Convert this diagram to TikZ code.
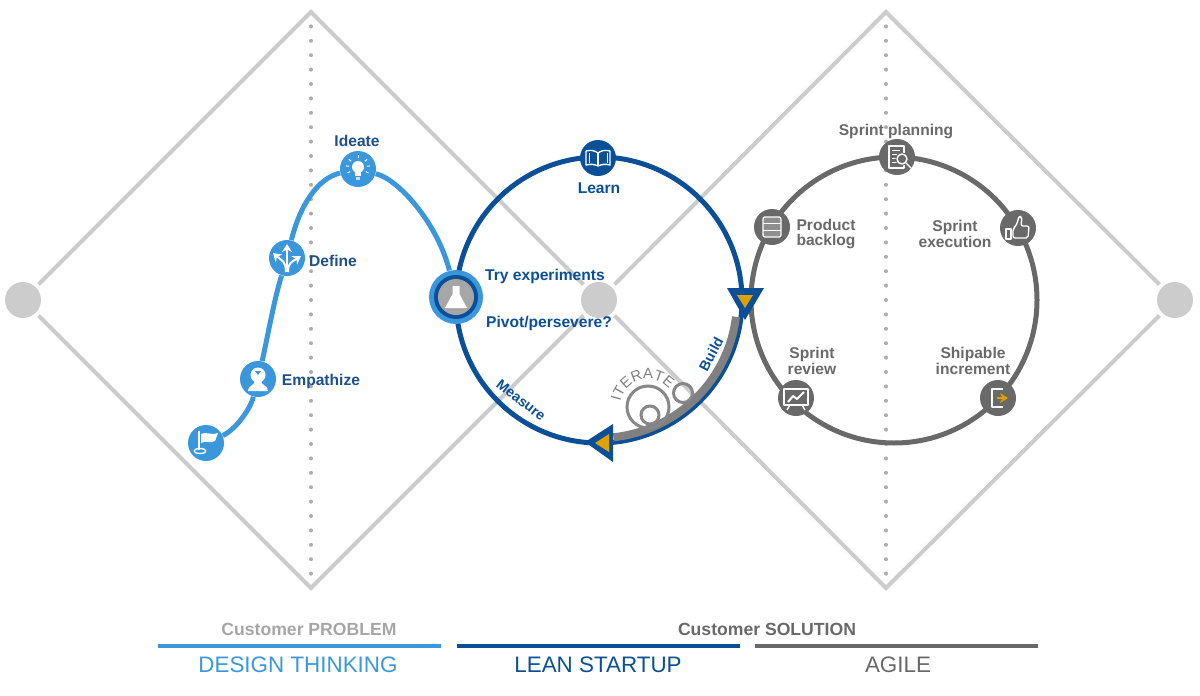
\documentclass[tikz,border=0pt]{standalone}
\usepackage{fontspec}
\setmainfont{Liberation Sans}
\usetikzlibrary{arrows.meta,decorations.text}
\definecolor{thinkblue}{HTML}{3A97DC}
\definecolor{leanblue}{HTML}{0B4F97}
\definecolor{agilegray}{HTML}{696969}
\definecolor{hubgray}{HTML}{CCCCCC}
\definecolor{goldtip}{HTML}{DFA100}
\definecolor{labelblue}{HTML}{1D4F88}
\tikzset{
  diamondline/.style={hubgray,line width=2pt,line join=miter},
  dotline/.style={draw=hubgray!85!black,line width=2pt,line cap=round,dash pattern=on 0pt off 7.2pt},
  hub/.style={circle,fill=hubgray,minimum size=18pt,inner sep=0pt,outer sep=2pt},
  stopnode/.style={circle,fill=#1,minimum size=18pt,inner sep=0pt},
  ringline/.style={line width=2.5pt},
  stoplabel/.style={font=\fontsize{7.8}{7.6}\selectfont\bfseries,align=center,inner sep=0pt},
  arclabel/.style={font=\fontsize{7.1}{8}\selectfont\bfseries,inner sep=0pt,text=leanblue},
  icon/.style={white,line width=0.7pt,line join=round},
  headtext/.style={font=\fontsize{8.8}{10}\selectfont\bfseries,inner sep=0pt},
  methodtext/.style={font=\fontsize{11.2}{13}\selectfont,inner sep=0pt},
  underline/.style={line width=1.6pt},
  definearrow/.style={icon,line width=1pt,-{Stealth[length=4pt,width=5pt]}}
}
\begin{document}
\begin{tikzpicture}[x=0.5pt,y=-0.5pt]
  \useasboundingbox (0,0) rectangle (1200,696);

  \node[hub] (hubleft) at (23,300) {};
  \node[hub] (hubmid) at (599,300) {};
  \node[hub] (hubright) at (1175,300) {};
  \coordinate (topa) at (311,12);
  \coordinate (bota) at (311,588);
  \coordinate (topb) at (886,12);
  \coordinate (botb) at (886,588);
  \coordinate (leanc) at (599,300);
  \coordinate (agilec) at (894,300);

  \draw[dotline] (topa) -- (bota);
  \draw[dotline] (topb) -- (botb);
  \draw[diamondline] (hubleft) -- (topa) -- (hubmid);
  \draw[diamondline] (hubleft) -- (bota) -- (hubmid);
  \draw[diamondline] (hubmid) -- (topb) -- (hubright);
  \draw[diamondline] (hubmid) -- (botb) -- (hubright);

  % lean loop
  \draw[leanblue,ringline] (leanc) circle [radius=143];
  \draw[agilegray!85,line width=4pt] ([shift={(7:138)}]leanc) arc [start angle=7,end angle=84,radius=138];

  % agile loop
  \draw[agilegray,ringline] (agilec) circle [radius=143];

  % iterate wheels
  \draw[agilegray!80,line width=1.5pt] (648,407) circle [radius=21];
  \draw[agilegray!80,line width=1.5pt] (650,415) circle [radius=9];
  \draw[agilegray!80,line width=1.5pt] (683,393) circle [radius=9.5];
  \path[decorate,decoration={text along path,text align=center,
    text={|\fontsize{7.4}{9}\selectfont\color{agilegray!85}|ITERATE}}]
    ([shift={(180:28)}]648,407) arc [start angle=180,end angle=330,radius=28];

  % build and measure tips
  \fill[leanblue] (727,288) -- (764,288) -- (745,320) -- cycle;
  \fill[goldtip] (737,295) -- (753,295) -- (745,308) -- cycle;
  \fill[leanblue] (585,442) -- (613,424) -- (613,462) -- cycle;
  \fill[goldtip] (595,443) -- (609,434) -- (609,452) -- cycle;

  % design thinking stops
  \node[stopnode=thinkblue] (start) at (206,443) {};
  \node[stopnode=thinkblue] (empathize) at (258,379) {};
  \node[stopnode=thinkblue] (define) at (287,258) {};
  \node[stopnode=thinkblue] (ideate) at (358,169) {};
  \node[circle,fill=thinkblue,minimum size=27pt,inner sep=0pt] (flask) at (456,297) {};
  \fill[leanblue] (flask) circle [radius=22];
  \fill[black!35] (flask) circle [radius=18];

  \draw[thinkblue,ringline] (start) .. controls (235,430) and (250,410) .. (empathize);
  \draw[thinkblue,ringline] (empathize) .. controls (267,340) and (274,300) .. (define);
  \draw[thinkblue,ringline] (define) .. controls (300,205) and (318,178) .. (ideate);
  \draw[thinkblue,ringline] (ideate) .. controls (400,180) and (438,225) .. (flask);

  % lean and agile stops
  \node[stopnode=leanblue] (learn) at (598,158) {};
  \node[stopnode=agilegray] (planning) at (897,157) {};
  \node[stopnode=agilegray] (execution) at (1018,228) {};
  \node[stopnode=agilegray] (backlog) at (772,227) {};
  \node[stopnode=agilegray] (review) at (796,398) {};
  \node[stopnode=agilegray] (increment) at (998,398) {};

  % icons
  \begin{scope}[shift={(start.center)}]
    \draw[icon] (-7,-12) -- (-7,7);
    \fill[white] (-5,-9) .. controls (0,-12) and (6,-7) .. (12,-10) -- (9,-2) .. controls (4,1) and (0,-3) .. (-5,0) -- cycle;
    \draw[icon] (-6,8) ellipse [x radius=6,y radius=2.5];
  \end{scope}
  \begin{scope}[shift={(empathize.center)}]
    \fill[white] (0,-4) circle [radius=7.5];
    \fill[white] (-10,12) .. controls (-10,6) and (-3,7) .. (-3,1) -- (3,1) .. controls (3,7) and (10,6) .. (10,12) -- cycle;
    \fill[thinkblue] (-3,-8) -- (3,-8) -- (0,-4) -- cycle;
  \end{scope}
  \begin{scope}[shift={(define.center)}]
    \draw[definearrow] (0,14) -- (0,-14);
    \draw[definearrow] (-1,14) .. controls (-1,3) and (-5,3) .. (-14,-5);
    \draw[definearrow] (1,14) .. controls (1,4) and (5,4) .. (14,-2);
  \end{scope}
  \begin{scope}[shift={(ideate.center)}]
    \fill[white] (0,-2) circle [radius=6];
    \fill[white] (-3,2) rectangle (3,7);
    \fill[white!70!thinkblue] (-2,8) rectangle (2,11);
    \foreach \ang in {150,185,220,270,320,355,30}
      \draw[white,line width=0.5pt] ([shift={(\ang:9)}]0,-2) -- ([shift={(\ang:12)}]0,-2);
  \end{scope}
  \begin{scope}[shift={(flask.center)}]
    \fill[white] (-3.5,-11) -- (3.5,-11) -- (3.5,-3) -- (11,11) -- (-11,11) -- (-3.5,-3) -- cycle;
  \end{scope}
  \begin{scope}[shift={(learn.center)}]
    \draw[icon] (0,-5) .. controls (-4,-8) and (-8,-8) .. (-12,-7) -- (-12,7) .. controls (-8,6) and (-4,6) .. (0,8) .. controls (4,6) and (8,6) .. (12,7) -- (12,-7) .. controls (8,-8) and (4,-8) .. (0,-5) -- cycle;
    \draw[icon] (0,-5) -- (0,8);
    \draw[icon,line width=0.4pt] (-9,-5) -- (-9,5) (9,-5) -- (9,5);
  \end{scope}
  \begin{scope}[shift={(planning.center)}]
    \draw[icon] (-8,-11) rectangle (7,11);
    \draw[icon,line width=0.5pt] (-5,-7) -- (3,-7) (-5,-3) -- (0,-3) (-5,1) -- (0,1) (-5,5) -- (0,5);
    \fill[agilegray] (5,2) circle [radius=6.5];
    \draw[icon] (5,2) circle [radius=5];
    \draw[icon] (9,6) -- (14,11);
  \end{scope}
  \begin{scope}[shift={(execution.center)}]
    \draw[icon] (-12,1) rectangle (-7,11);
    \draw[icon,rounded corners=1pt] (-5,1) -- (-1,-4) -- (1,-12) -- (4,-11) -- (3,-2) -- (11,-2) -- (10,10) -- (-5,10) -- cycle;
  \end{scope}
  \begin{scope}[shift={(backlog.center)}]
    \draw[icon,rounded corners=1pt,fill=white!25!agilegray] (-9,-10) rectangle (9,10);
    \draw[icon] (-9,-3.3) -- (9,-3.3) (-9,3.3) -- (9,3.3);
  \end{scope}
  \begin{scope}[shift={(review.center)}]
    \draw[icon] (-12,-9) rectangle (12,7);
    \draw[icon,line width=1pt] (-8,4) -- (-3,-2) -- (1,1) -- (8,-6);
    \draw[icon] (-6,7) -- (-9,12) (6,7) -- (9,12);
  \end{scope}
  \begin{scope}[shift={(increment.center)}]
    \draw[icon,line width=1pt] (5,-9) -- (-6,-9) -- (-6,9) -- (5,9);
    \draw[goldtip,line width=0.7pt,-{Stealth[length=4pt,width=5pt]}] (-1,0) -- (10,0);
  \end{scope}

  % stop labels
  \node[stoplabel,text=labelblue] (ideatetext) at (357,141) {Ideate};
  \node[stoplabel,text=labelblue] (definetext) at (333,261) {Define};
  \node[stoplabel,text=labelblue] (empathizetext) at (321,381) {Empathize};
  \node[stoplabel,text=leanblue] (learntext) at (599,188) {Learn};
  \node[stoplabel,text=leanblue] (trytext) at (545,276) {Try experiments};
  \node[stoplabel,text=leanblue] (pivottext) at (549,323) {Pivot/persevere?};
  \node[arclabel,rotate=-38] (measuretext) at (521,400) {Measure};
  \node[arclabel,rotate=62] (buildtext) at (711,354) {Build};
  \node[stoplabel,text=agilegray] (planningtext) at (896,132) {Sprint planning};
  \node[stoplabel,text=agilegray] (backlogtext) at (826,234) {Product\\backlog};
  \node[stoplabel,text=agilegray] (executiontext) at (955,234) {Sprint\\execution};
  \node[stoplabel,text=agilegray] (reviewtext) at (812,361) {Sprint\\review};
  \node[stoplabel,text=agilegray] (incrementtext) at (973,361) {Shipable\\increment};

  % bottom legend
  \node[headtext,text=black!35] (problemtext) at (309,629) {Customer PROBLEM};
  \node[headtext,text=agilegray] (solutiontext) at (767,629) {Customer SOLUTION};
  \draw[thinkblue,underline] (158,646) -- (441,646);
  \draw[leanblue,underline] (457,646) -- (740,646);
  \draw[agilegray,underline] (755,646) -- (1038,646);
  \node[methodtext,text=thinkblue] (thinktext) at (298,665) {DESIGN THINKING};
  \node[methodtext,text=leanblue] (leantext) at (598,665) {LEAN STARTUP};
  \node[methodtext,text=agilegray] (agiletext) at (898,665) {AGILE};
\end{tikzpicture}
\end{document}
